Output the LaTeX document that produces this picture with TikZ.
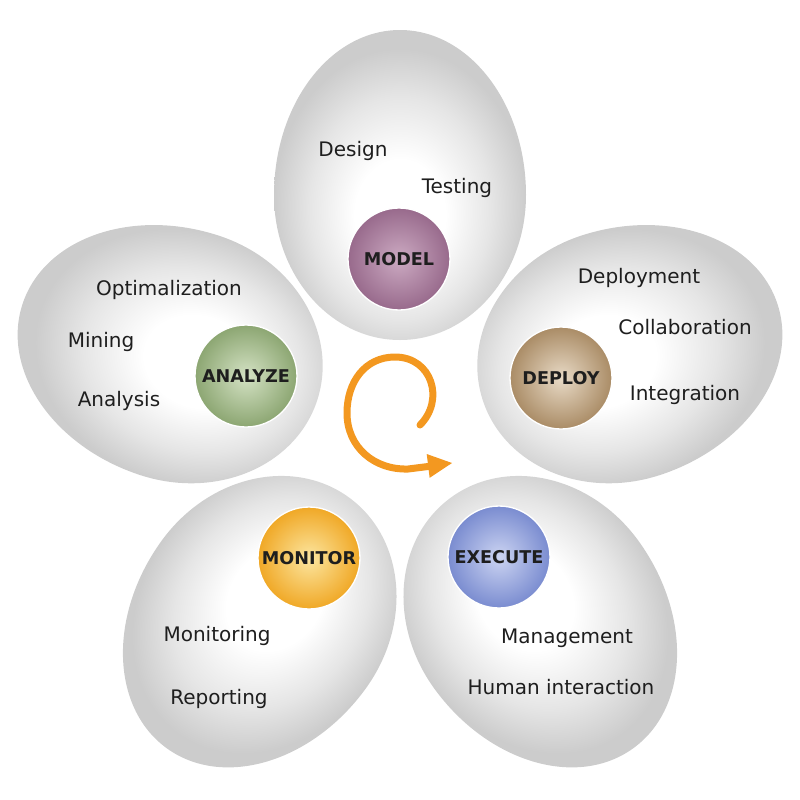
\documentclass[tikz,border=0pt]{standalone}
\usepackage{fontspec}
\setmainfont{DejaVu Sans}
\usetikzlibrary{positioning}

\definecolor{eggrim}{RGB}{204,204,204}
\definecolor{turncol}{RGB}{243,152,32}
\definecolor{txtcol}{RGB}{30,30,30}
\definecolor{modelout}{RGB}{152,106,140}
\definecolor{modelin}{RGB}{204,170,194}
\definecolor{analyzeout}{RGB}{140,166,114}
\definecolor{analyzein}{RGB}{212,226,196}
\definecolor{deployout}{RGB}{170,140,102}
\definecolor{deployin}{RGB}{232,218,198}
\definecolor{monitorout}{RGB}{240,168,38}
\definecolor{monitorin}{RGB}{252,230,160}
\definecolor{executeout}{RGB}{122,140,208}
\definecolor{executein}{RGB}{204,212,242}

\pgfdeclareradialshading{eggshade}{\pgfpoint{0bp}{-6bp}}{color(0bp)=(white); color(9bp)=(white); color(18bp)=(eggrim!50!white); color(25bp)=(eggrim); color(50bp)=(eggrim)}

\tikzset{every picture/.style={line width=0.75pt}}
\tikzset{
  item/.style={font=\fontsize{15}{18}\selectfont, text=txtcol, inner sep=0.75pt},
  stage/.style={circle, minimum size=76.5pt, inner sep=0pt, draw=white, line width=1pt,
    font=\fontsize{13.2}{15}\selectfont\bfseries, text=txtcol},
  turnline/.style={draw=turncol, line width=5.25pt, line cap=round},
}

\begin{document}
\begin{tikzpicture}[x=0.75pt,y=0.75pt,yscale=-1,xscale=1]
\useasboundingbox (0,0) rectangle (800,800);

%Shape: Egg [MODEL]
\begin{scope}[transform canvas={shift={(300pt,-320.25pt)},rotate=0}]
\shade [shading=eggshade] (126,-232) arc[start angle=0,end angle=-180,x radius=126,y radius=165] arc[start angle=180,end angle=0,x radius=126,y radius=145] -- cycle;
\end{scope}
%Shape: Egg [DEPLOY]
\begin{scope}[transform canvas={shift={(300pt,-320.25pt)},rotate=-72}]
\shade [shading=eggshade] (126,-232) arc[start angle=0,end angle=-180,x radius=126,y radius=165] arc[start angle=180,end angle=0,x radius=126,y radius=145] -- cycle;
\end{scope}
%Shape: Egg [EXECUTE]
\begin{scope}[transform canvas={shift={(300pt,-320.25pt)},rotate=-144}]
\shade [shading=eggshade] (126,-232) arc[start angle=0,end angle=-180,x radius=126,y radius=165] arc[start angle=180,end angle=0,x radius=126,y radius=145] -- cycle;
\end{scope}
%Shape: Egg [MONITOR]
\begin{scope}[transform canvas={shift={(300pt,-320.25pt)},rotate=-216}]
\shade [shading=eggshade] (126,-232) arc[start angle=0,end angle=-180,x radius=126,y radius=165] arc[start angle=180,end angle=0,x radius=126,y radius=145] -- cycle;
\end{scope}
%Shape: Egg [ANALYZE]
\begin{scope}[transform canvas={shift={(300pt,-320.25pt)},rotate=-288}]
\shade [shading=eggshade] (126,-232) arc[start angle=0,end angle=-180,x radius=126,y radius=165] arc[start angle=180,end angle=0,x radius=126,y radius=145] -- cycle;
\end{scope}

%Curve Lines
\draw [turnline] (420,425) .. controls (445,400) and (432,357) .. (395,357) .. controls (365,357) and (347,382) .. (347,413) .. controls (347,447) and (374,470) .. (408,469) -- (432,466) ;
\fill [turncol, shift={(452,463)}, rotate=-7] (0,0) -- (-24,-12) -- (-24,12) -- cycle ;

% Stage Nodes
\node [stage, inner color=modelin, outer color=modelout] (model) at (399,259) {MODEL};
\node [stage, inner color=analyzein, outer color=analyzeout] (analyze) at (246,376) {ANALYZE};
\node [stage, inner color=deployin, outer color=deployout] (deploy) at (561,378) {DEPLOY};
\node [stage, inner color=monitorin, outer color=monitorout] (monitor) at (309,558) {MONITOR};
\node [stage, inner color=executein, outer color=executeout] (execute) at (499,557) {EXECUTE};

% Text Node
\node [item] (design) at (353,151) {Design};
% Text Node
\node [item] (testing) at (457,188) {Testing};
% Text Node
\node [item] (optim) at (169,290) {Optimalization};
% Text Node
\node [item] (mining) at (101,342) {Mining};
% Text Node
\node [item] (analysis) at (119,401) {Analysis};
% Text Node
\node [item] (deployment) at (639,278) {Deployment};
% Text Node
\node [item] (collab) at (685,327) {Collaboration};
% Text Node
\node [item] (integr) at (685,395) {Integration};
% Text Node
\node [item] (monitoring) at (217,636) {Monitoring};
% Text Node
\node [item] (reporting) at (219,699) {Reporting};
% Text Node
\node [item] (management) at (567,638) {Management};
% Text Node
\node [item] (human) at (561,687) {Human interaction};

\end{tikzpicture}
\end{document}
